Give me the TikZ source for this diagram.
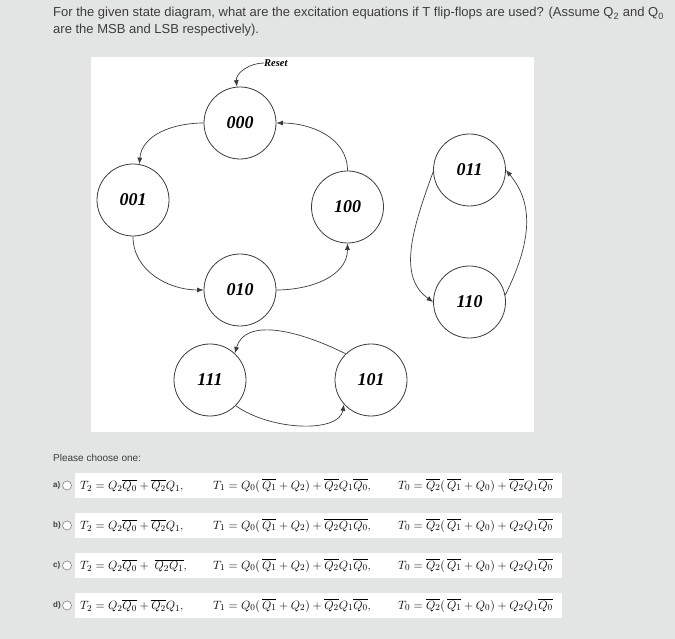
\documentclass[tikz,border=0pt]{standalone}
\usepackage{fontspec}
\setmainfont{Liberation Sans}
\newfontfamily\statefont{Liberation Serif}
\usetikzlibrary{arrows.meta}
\definecolor{bgc}{RGB}{227,228,228}
\definecolor{linec}{RGB}{60,60,60}
\definecolor{txtc}{RGB}{60,60,60}
\definecolor{radioc}{RGB}{130,130,130}
\begin{document}
\begin{tikzpicture}[x=1pt,y=1pt,
  state/.style={circle, draw=linec, line width=0.8pt, minimum size=72pt, inner sep=0pt,
    font=\statefont\bfseries\itshape\fontsize{18}{18}\selectfont},
  edge/.style={draw=linec, line width=0.7pt, -{Latex[length=6.5pt,width=5pt]}},
  eq/.style={anchor=west, inner sep=0pt, font=\fontsize{12.8}{14}\selectfont},
  lbl/.style={anchor=west, inner sep=0pt, text=txtc, font=\bfseries\fontsize{8}{9}\selectfont},
  radio/.style={circle, draw=radioc, fill=white, line width=0.6pt, minimum size=9pt, inner sep=0pt},
  rowbox/.style={fill=white}]
\useasboundingbox (0,0) rectangle (675,639);
\fill[bgc] (0,0) rectangle (675,639);
% question
\node[anchor=base west, inner sep=0pt, text=txtc, font=\fontsize{13}{15}\selectfont] (q1) at (53,622)
  {For the given state diagram, what are the excitation equations if T flip-flops are used? (Assume Q\textsubscript{2} and Q\textsubscript{0}};
\node[anchor=base west, inner sep=0pt, text=txtc, font=\fontsize{13}{15}\selectfont] (q2) at (53,605)
  {are the MSB and LSB respectively).};
% diagram panel
\fill[white] (91,207) rectangle (534,582);
\node[state] (s000) at (240,516) {000};
\node[state] (s001) at (133,439) {001};
\node[state] (s100) at (347.5,432) {100};
\node[state] (s011) at (469.5,469) {011};
\node[state] (s110) at (469.5,337) {110};
\node[state] (s010) at (240,349) {010};
\node[state] (s111) at (210,259) {111};
\node[state] (s101) at (371,259) {101};
\node[anchor=west, inner sep=0pt, font=\statefont\bfseries\itshape\fontsize{10.5}{12}\selectfont] (rl) at (264,576) {Reset};
\draw[edge] (rl.west) to[out=180,in=95] (s000.95);
\draw[edge] (s000.180) to[out=180,in=85] (s001.80);
\draw[edge] (s100.90) to[out=90,in=0] (s000.0);
\draw[edge] (s001.270) to[out=270,in=180] (s010.180);
\draw[edge] (s010.0) to[out=0,in=270] (s100.270);
\draw[edge] (s011.183) .. controls +(-22,-60) and +(-35,25) .. (s110.180);
\draw[edge] (s110.11) .. controls +(30,60) and +(25,-30) .. (s011.0);
\draw[edge] (s101.134) .. controls +(-50,25) and +(10,35) .. (s111.47);
\draw[edge] (s111.315) .. controls +(35,-25) and +(-5,-29) .. (s101.222);
% choices
\node[anchor=west, inner sep=0pt, text=txtc, font=\fontsize{10}{12}\selectfont] (pc) at (53,181) {Please choose one:};
% row a
\fill[rowbox] (75,141) rectangle (562,166);
\node[lbl] (la) at (53,153.5) {a)};
\node[radio] (ra) at (67,153.5) {};
\node[eq] (a2) at (80,153.5) {$T_2 = Q_2\overline{Q_0} + \overline{Q_2}Q_1,$};
\node[eq] (a1) at (213,153.5) {$T_1 = Q_0(\,\overline{Q_1} + Q_2) + \overline{Q_2}Q_1\overline{Q_0},$};
\node[eq] (a0) at (398,153.5) {$T_0 = \overline{Q_2}(\,\overline{Q_1} + Q_0) + \overline{Q_2}Q_1\overline{Q_0}$};
% row b
\fill[rowbox] (75,101) rectangle (562,126);
\node[lbl] (lb) at (53,113.5) {b)};
\node[radio] (rb) at (67,113.5) {};
\node[eq] (b2) at (80,113.5) {$T_2 = Q_2\overline{Q_0} + \overline{Q_2}Q_1,$};
\node[eq] (b1) at (213,113.5) {$T_1 = Q_0(\,\overline{Q_1} + Q_2) + \overline{Q_2Q_1Q_0},$};
\node[eq] (b0) at (398,113.5) {$T_0 = \overline{Q_2}(\,\overline{Q_1} + Q_0) + Q_2Q_1\overline{Q_0}$};
% row c
\fill[rowbox] (75,61) rectangle (562,86);
\node[lbl] (lc) at (53,73.5) {c)};
\node[radio] (rc) at (67,73.5) {};
\node[eq] (c2) at (80,73.5) {$T_2 = Q_2\overline{Q_0} + \;\overline{Q_2Q_1},$};
\node[eq] (c1) at (213,73.5) {$T_1 = Q_0(\,\overline{Q_1} + Q_2) + \overline{Q_2}Q_1\overline{Q_0},$};
\node[eq] (c0) at (398,73.5) {$T_0 = \overline{Q_2}(\,\overline{Q_1} + Q_0) + Q_2Q_1\overline{Q_0}$};
% row d
\fill[rowbox] (75,21) rectangle (562,46);
\node[lbl] (ld) at (53,33.5) {d)};
\node[radio] (rd) at (67,33.5) {};
\node[eq] (d2) at (80,33.5) {$T_2 = Q_2\overline{Q_0} + \overline{Q_2}Q_1,$};
\node[eq] (d1) at (213,33.5) {$T_1 = Q_0(\,\overline{Q_1} + Q_2) + \overline{Q_2}Q_1\overline{Q_0},$};
\node[eq] (d0) at (398,33.5) {$T_0 = \overline{Q_2}(\,\overline{Q_1} + Q_0) + Q_2Q_1\overline{Q_0}$};
\end{tikzpicture}
\end{document}
